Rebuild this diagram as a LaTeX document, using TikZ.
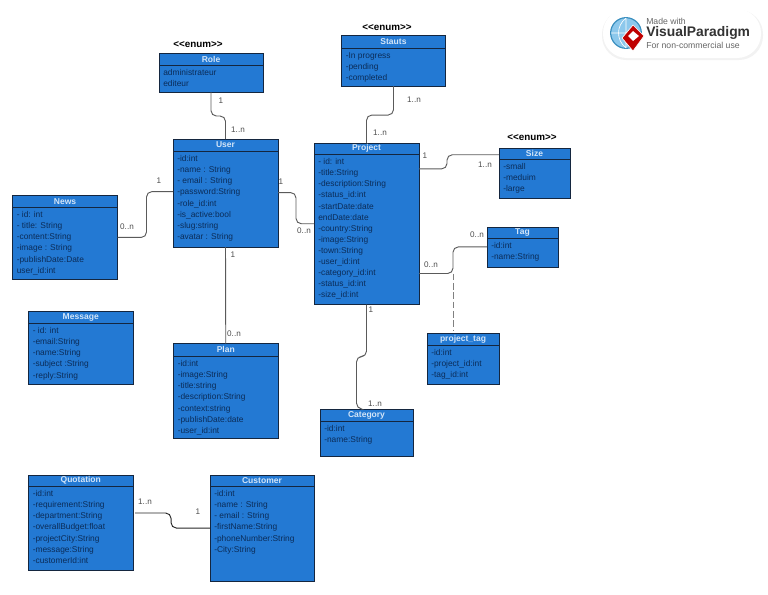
\documentclass[tikz,border=0pt]{standalone}
\usepackage{fontspec}
\setmainfont{Liberation Sans}
\usetikzlibrary{positioning,arrows,calc,shapes}
\definecolor{classblue}{HTML}{2379D3}
\definecolor{classline}{HTML}{14263F}
\definecolor{classtext}{HTML}{0B2C58}
\definecolor{headtext}{HTML}{D3E5F8}
\definecolor{wirecolor}{HTML}{5A5A5A}
\definecolor{globeblue}{HTML}{8CC8EC}
\definecolor{globerim}{HTML}{3A8FBF}
\tikzset{
    classhead/.style = {
        draw=classline,
        fill=classblue,
        shape=rectangle,
        anchor=north west,
        line width=0.7pt,
        outer sep=0pt,
        inner sep=0pt,
        text=headtext,
        font=\fontsize{6.4}{8}\selectfont\bfseries
    },
    classbody/.style = {
        draw=classline,
        fill=classblue,
        shape=rectangle,
        anchor=north west,
        line width=0.7pt,
        outer sep=0pt
    },
    classattrs/.style = {
        anchor=north west,
        align=left,
        inner xsep=3pt,
        inner ysep=3.2pt,
        text=classtext,
        font=\fontsize{6.3}{8.33}\selectfont
    },
    assoc/.style = {
        draw=wirecolor,
        line width=0.7pt,
        rounded corners=4pt
    },
    mult/.style = {
        inner sep=0pt,
        text=black!70,
        font=\fontsize{6.1}{7}\selectfont
    },
    enumtag/.style = {
        inner sep=0pt,
        font=\fontsize{7.4}{9}\selectfont\bfseries
    },
    wmtext/.style = {
        anchor=west,
        inner sep=0pt,
        text=black!60,
        font=\fontsize{6.5}{8}\selectfont
    },
}

\begin{document}
\begin{tikzpicture}[x=0.75pt,y=-0.75pt]
            \useasboundingbox (0,0) rectangle (768,594);

            % watermark
            \path[fill=black!5, rounded corners=18pt] (602,10) rectangle (763,60);
            \path[fill=white, rounded corners=18pt] (603,9) rectangle (761,58);
            \path[fill=globeblue, draw=globerim, line width=0.9pt] (626,33) circle (11.5pt);
            \draw[white, line width=0.5pt] (626,18) -- (626,48) (611,33) -- (641,33) (626,18) .. controls (616,26) and (616,40) .. (626,48);
            \path[fill=red!75!black, draw=white, line width=0.5pt] (633,25) -- (644,36) -- (633,51) -- (622,38) -- cycle;
            \path[fill=white] (633,31) -- (639,36) -- (633,41) -- (628,36) -- cycle;
            \node[wmtext] (wmmade) at (646,21) {Made with};
            \node[wmtext, text=black!80, font=\fontsize{10.4}{12}\selectfont\bfseries] (wmname) at (646,33) {VisualParadigm};
            \node[wmtext] (wmuse) at (646,45) {For non-commercial use};

            % classes
            \node[classhead, minimum width=78pt, minimum height=9pt] (rolehead) at (159,53) {Role};
            \node[classbody, minimum width=78pt, minimum height=20.25pt] (rolebody) at (rolehead.south west) {};
            \node[classattrs] (roleattrs) at (rolebody.north west) {administrateur\\editeur};

            \node[classhead, minimum width=78.75pt, minimum height=9pt] (userhead) at (173,139) {User};
            \node[classbody, minimum width=78.75pt, minimum height=72pt] (userbody) at (userhead.south west) {};
            \node[classattrs] (userattrs) at (userbody.north west) {-id:int\\-name : String\\- email : String\\-password:String\\-role\_id:int\\-is\_active:bool\\-slug:string\\-avatar : String};

            \node[classhead, minimum width=78.75pt, minimum height=8.6pt] (newshead) at (12.5,195.5) {News};
            \node[classbody, minimum width=78.75pt, minimum height=54pt] (newsbody) at (newshead.south west) {};
            \node[classattrs] (newsattrs) at (newsbody.north west) {- id: int\\- title: String\\-content:String\\-image : String\\-publishDate:Date\\user\_id:int};

            \node[classhead, minimum width=78.4pt, minimum height=9pt] (messagehead) at (28.5,311) {Message};
            \node[classbody, minimum width=78.4pt, minimum height=45.75pt] (messagebody) at (messagehead.south west) {};
            \node[classattrs] (messageattrs) at (messagebody.north west) {- id: int\\-email:String\\-name:String\\-subject :String\\-reply:String};

            \node[classhead, minimum width=78.4pt, minimum height=9.4pt] (planhead) at (173.5,343.5) {Plan};
            \node[classbody, minimum width=78.4pt, minimum height=61.5pt] (planbody) at (planhead.south west) {};
            \node[classattrs] (planattrs) at (planbody.north west) {-id:int\\-image:String\\-title:string\\-description:String\\-context:string\\-publishDate:date\\-user\_id:int};

            \node[classhead, minimum width=78.4pt, minimum height=8.25pt] (quotationhead) at (28.5,475) {Quotation};
            \node[classbody, minimum width=78.4pt, minimum height=63pt] (quotationbody) at (quotationhead.south west) {};
            \node[classattrs] (quotationattrs) at (quotationbody.north west) {-id:int\\-requirement:String\\-department:String\\-overallBudget:float\\-projectCity:String\\-message:String\\-customerId:int};

            \node[classhead, minimum width=78pt, minimum height=8.25pt] (customerhead) at (210,475) {Customer};
            \node[classbody, minimum width=78pt, minimum height=71.25pt] (customerbody) at (customerhead.south west) {};
            \node[classattrs] (customerattrs) at (customerbody.north west) {-id:int\\-name : String\\- email : String\\-firstName:String\\-phoneNumber:String\\-City:String};

            \node[classhead, minimum width=78pt, minimum height=9.4pt] (stautshead) at (341.5,35.5) {Stauts};
            \node[classbody, minimum width=78pt, minimum height=28.5pt] (stautsbody) at (stautshead.south west) {};
            \node[classattrs] (stautsattrs) at (stautsbody.north west) {-In progress\\-pending\\-completed};

            \node[classhead, minimum width=78.75pt, minimum height=8.25pt] (projecthead) at (314,143) {Project};
            \node[classbody, minimum width=78.75pt, minimum height=112.9pt] (projectbody) at (projecthead.south west) {};
            \node[classattrs] (projectattrs) at (projectbody.north west) {- id: int\\-title:String\\-description:String\\-status\_id:int\\-startDate:date\\endDate:date\\-country:String\\-image:String\\-town:String\\-user\_id:int\\-category\_id:int\\-status\_id:int\\-size\_id:int};

            \node[classhead, minimum width=53.25pt, minimum height=8.25pt] (sizehead) at (499,148) {Size};
            \node[classbody, minimum width=53.25pt, minimum height=29.6pt] (sizebody) at (sizehead.south west) {};
            \node[classattrs] (sizeattrs) at (sizebody.north west) {-small\\-meduim\\-large};

            \node[classhead, minimum width=53.25pt, minimum height=8.25pt] (taghead) at (487,227) {Tag};
            \node[classbody, minimum width=53.25pt, minimum height=21.75pt] (tagbody) at (taghead.south west) {};
            \node[classattrs] (tagattrs) at (tagbody.north west) {-id:int\\-name:String};

            \node[classhead, minimum width=54pt, minimum height=9pt] (ptaghead) at (427,333) {project\_tag};
            \node[classbody, minimum width=54pt, minimum height=29.25pt] (ptagbody) at (ptaghead.south west) {};
            \node[classattrs] (ptagattrs) at (ptagbody.north west) {-id:int\\-project\_id:int\\-tag\_id:int};

            \node[classhead, minimum width=69.75pt, minimum height=9pt] (categoryhead) at (320,409) {Category};
            \node[classbody, minimum width=69.75pt, minimum height=26.25pt] (categorybody) at (categoryhead.south west) {};
            \node[classattrs] (categoryattrs) at (categorybody.north west) {-id:int\\-name:String};

            \node[enumtag] (roleenum) at (198,45) {<{}<enum>{}>};
            \node[enumtag] (stautsenum) at (387,28) {<{}<enum>{}>};
            \node[enumtag] (sizeenum) at (532,138) {<{}<enum>{}>};

            % connectors
            \coordinate (tagjoin) at (453,273.5);
            \path[assoc] (rolebody.south) -- ++(0,24) -| (userhead.north);
            \path[assoc] (newsbody.6.5) -- ++(29,0) |- (userbody.172.4);
            \path[assoc] (userbody.7.6) -- ++(18,0) |- (projectbody.174.3);
            \path[assoc] (userbody.south) -- (planhead.north);
            \path[assoc] (stautsbody.south) -- ++(0,29) -| (projecthead.north);
            \path[assoc] (projectbody.49.4) -- ++(28,0) |- (sizehead.182.4);
            \path[assoc] (tagjoin -| projectbody.east) -- (tagjoin) |- (tagbody.171);
            \path[assoc, draw=black!50, dash pattern=on 5pt off 2pt] (tagjoin) -- ($(tagjoin |- ptaghead.north)+(0,-2)$);
            \path[assoc] (projectbody.south) -- ++(0,52) -- ++(-10,0) -- ++(0,52) -- (categoryhead.132);
            \path[assoc, draw=black!85, shorten <=1.5pt] (quotationbody.16) -- ++(38,0) |- (customerbody.174);

            % multiplicities
            \node[mult] (m1) at (221,101) {1};
            \node[mult] (m2) at (238,130) {1..n};
            \node[mult] (m3) at (159,181) {1};
            \node[mult] (m4) at (127,227) {0..n};
            \node[mult] (m5) at (281,182) {1};
            \node[mult] (m6) at (304,231) {0..n};
            \node[mult] (m7) at (233,255) {1};
            \node[mult] (m8) at (234,334) {0..n};
            \node[mult] (m9) at (414,100) {1..n};
            \node[mult] (m10) at (380,133) {1..n};
            \node[mult] (m11) at (425,156) {1};
            \node[mult] (m12) at (485,165) {1..n};
            \node[mult] (m13) at (431,265) {0..n};
            \node[mult] (m14) at (477,235) {0..n};
            \node[mult] (m15) at (371,310) {1};
            \node[mult] (m16) at (375,404) {1..n};
            \node[mult] (m17) at (145,502) {1..n};
            \node[mult] (m18) at (198,512) {1};
        \end{tikzpicture}
\end{document}
